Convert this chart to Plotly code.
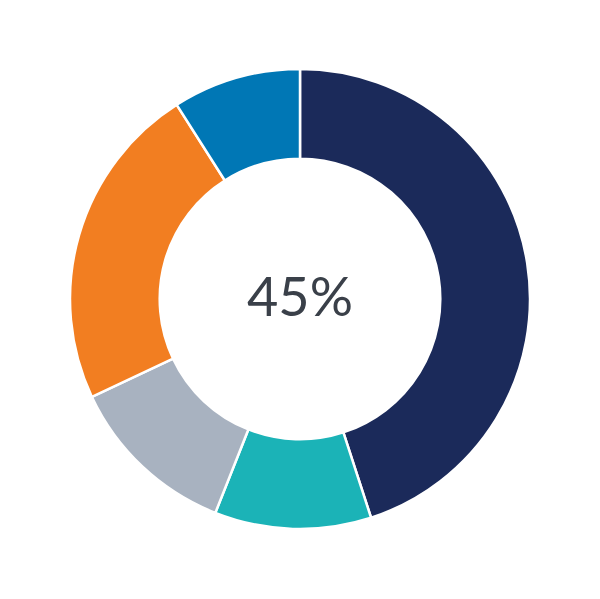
import plotly.graph_objects as go

# Anteile der Segmente (im Uhrzeigersinn ab 12 Uhr)
labels = ["A", "B", "C", "D", "E"]
values = [45, 11, 12, 23, 9]
farben = ["#1b2a5a", "#1bb3b7", "#a8b2c0", "#f27e21", "#0077b5"]
mitte_text = "45%"

fig = go.Figure()

fig.add_trace(go.Pie(
    labels=labels,
    values=values,
    hole=0.61,
    sort=False,
    direction="clockwise",
    rotation=0,
    marker=dict(colors=farben, line=dict(color="white", width=2.5)),
    textinfo="none",
    hoverinfo="label+percent",
    showlegend=False,
))

# body der Seite hat 8px Rand -> Ränder entsprechend verschoben
fig.update_layout(
    width=600,
    height=599,
    margin=dict(l=62, r=78, t=61, b=78),
    paper_bgcolor="white",
    plot_bgcolor="white",
    annotations=[dict(
        text=mitte_text,
        x=0.5, y=0.5,
        xref="paper", yref="paper",
        yshift=4,
        showarrow=False,
        font=dict(family="Lato", size=54, color="#3a4049"),
    )],
)

fig.write_html("out.html")
